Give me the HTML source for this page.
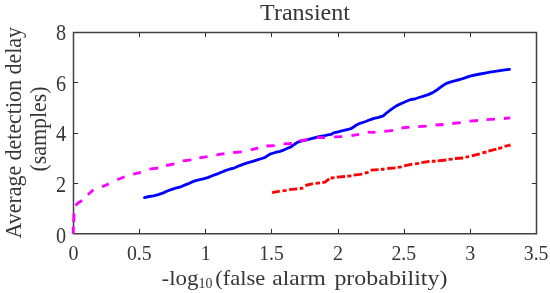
<!DOCTYPE html>
<html><head><meta charset="utf-8"><style>
html,body{margin:0;padding:0;background:#fff;width:550px;height:293px;overflow:hidden}
svg{display:block}
text{font-family:"Liberation Serif",serif;fill:#363636}
</style></head><body>
<svg width="550" height="293" viewBox="0 0 550 293">
<rect width="550" height="293" fill="#fff"/>
<g font-size="22"><text transform="translate(73.40,260) scale(0.91,1)" text-anchor="middle">0</text><text transform="translate(139.24,260) scale(0.9,1)" text-anchor="middle">0.5</text><text transform="translate(205.69,260) scale(0.91,1)" text-anchor="middle">1</text><text transform="translate(271.53,260) scale(0.9,1)" text-anchor="middle">1.5</text><text transform="translate(337.97,260) scale(0.91,1)" text-anchor="middle">2</text><text transform="translate(403.81,260) scale(0.9,1)" text-anchor="middle">2.5</text><text transform="translate(470.26,260) scale(0.91,1)" text-anchor="middle">3</text><text transform="translate(536.10,260) scale(0.9,1)" text-anchor="middle">3.5</text><text transform="translate(66.1,242.60) scale(0.92,1.04)" text-anchor="end">0</text><text transform="translate(66.1,191.55) scale(0.92,1.04)" text-anchor="end">2</text><text transform="translate(66.1,140.70) scale(0.92,1.04)" text-anchor="end">4</text><text transform="translate(66.1,90.85) scale(0.92,1.04)" text-anchor="end">6</text><text transform="translate(66.1,40.00) scale(0.92,1.04)" text-anchor="end">8</text></g>
<text x="305" y="20" font-size="24" text-anchor="middle" fill="#000">Transient</text>
<g font-size="22">
<text x="161.5" y="284.6" textLength="37" lengthAdjust="spacingAndGlyphs">-log</text>
<text x="198.6" y="288.2" font-size="15" textLength="14" lengthAdjust="spacingAndGlyphs">10</text>
<text x="215.3" y="284.6" textLength="50" lengthAdjust="spacingAndGlyphs">(false</text>
<text x="272.3" y="284.6" textLength="53.5" lengthAdjust="spacingAndGlyphs">alarm</text>
<text x="334.4" y="284.6" textLength="113" lengthAdjust="spacingAndGlyphs">probability)</text>
</g>
<g font-size="23.6" text-anchor="middle">
<text transform="translate(21.2,132.8) rotate(-90) scale(0.93,1)">Average detection delay</text>
<text transform="translate(45.6,129) rotate(-90) scale(0.93,1)">(samples)</text>
</g>
<path d="M73.50 233.5V228.9M73.50 32.5V37.1M139.50 233.5V228.9M139.50 32.5V37.1M205.50 233.5V228.9M205.50 32.5V37.1M271.50 233.5V228.9M271.50 32.5V37.1M338.50 233.5V228.9M338.50 32.5V37.1M404.50 233.5V228.9M404.50 32.5V37.1M470.50 233.5V228.9M470.50 32.5V37.1M536.50 233.5V228.9M536.50 32.5V37.1M73.5 233.50H78.1M536.5 233.50H531.9M73.5 183.50H78.1M536.5 183.50H531.9M73.5 133.50H78.1M536.5 133.50H531.9M73.5 82.50H78.1M536.5 82.50H531.9M73.5 32.50H78.1M536.5 32.50H531.9" stroke="#303030" stroke-width="1" fill="none"/>
<path d="M73.5 32.4H536.5V233.7H73.5Z" fill="none" stroke="#404040" stroke-width="1.5"/>
<polyline points="144.5,197.6 149.1,196.5 153.6,195.8 158.2,194.6 162.7,193.1 167.3,191.0 171.8,189.3 176.4,187.9 180.9,186.8 185.2,184.9 189.3,183.3 194.1,181.1 198.6,179.9 203.2,178.8 207.7,177.6 212.3,175.7 216.8,174.1 221.4,172.2 225.9,170.4 230.2,169.0 234.7,167.8 239.1,165.8 243.6,164.1 248.2,162.7 252.7,161.3 257.3,159.9 261.8,158.5 264.5,157.7 267.3,155.9 270.0,154.1 273.6,153.0 277.3,151.9 280.0,151.3 284.1,149.8 288.6,147.8 291.4,146.7 294.1,144.5 296.8,142.7 299.5,141.5 302.3,140.8 306.8,139.8 311.4,138.6 315.9,137.5 320.3,136.4 324.8,135.6 329.1,134.7 331.4,134.3 333.6,132.9 338.2,131.8 342.7,130.7 347.3,129.6 350.9,128.7 353.6,127.1 356.4,125.0 359.1,123.7 362.7,122.5 365.7,121.5 369.8,119.8 374.1,118.4 378.6,117.4 383.2,115.8 385.9,113.5 388.6,111.4 392.3,108.7 396.8,105.6 401.4,103.5 405.9,101.5 410.2,99.7 414.7,99.0 419.1,97.5 423.6,96.1 428.2,94.6 432.7,92.6 437.3,89.7 441.8,86.3 446.4,83.4 450.9,81.8 455.5,80.6 460.0,79.5 465.0,77.8 470.0,76.1 475.0,75.0 480.0,74.0 485.0,73.1 490.0,72.2 495.0,71.4 500.0,70.6 505.0,69.9 509.5,69.4" fill="none" stroke="#0000ff" stroke-width="2.85" stroke-linejoin="round" stroke-linecap="round"/>
<path d="M73.20 233.80 L73.30 226.60M73.70 222.10 L74.00 213.50M75.70 205.50 L77.20 203.60 L79.50 202.00 L82.20 200.60M87.90 194.70 L93.40 189.80M102.00 186.80 L108.80 183.90M117.30 179.80 L124.50 176.70M133.20 174.10 L140.90 172.40M149.40 169.10 L158.20 168.00M166.20 165.50 L174.40 163.80M182.70 160.90 L191.40 159.80M199.30 157.80 L207.60 156.70M216.40 154.80 L224.50 153.60M233.20 152.50 L241.80 151.90M250.70 149.90 L258.20 148.00M266.40 146.00 L274.80 145.70M283.60 143.90 L291.80 143.50M299.60 141.00 L307.70 139.40M316.80 137.60 L325.00 137.60M334.10 136.90 L342.20 136.70M351.40 135.60 L359.10 134.40M367.70 132.10 L375.50 132.40M384.30 131.30 L393.20 130.30M401.40 128.00 L409.50 127.10M418.20 126.60 L426.70 126.10M435.50 125.00 L443.60 124.50M452.30 123.50 L460.70 122.60M469.40 121.20 L478.00 120.50M486.50 119.60 L495.00 119.10M503.90 118.50 L510.30 117.90" fill="none" stroke="#ff00ff" stroke-width="2.85" stroke-linejoin="round"/>
<path d="M272.10 192.60 L279.80 191.20M282.50 190.80 L286.60 190.30M289.10 189.70 L297.30 188.90M299.80 188.50 L303.30 188.20M305.30 185.50 L313.00 183.70M315.50 183.30 L320.00 182.90M322.30 182.60 L325.00 182.10 L329.10 178.90M330.70 178.00 L334.50 177.60M336.80 177.10 L345.00 176.50M347.30 176.20 L351.40 175.80M353.60 175.10 L362.30 174.20M364.80 173.00 L368.60 172.40M370.60 170.10 L378.60 169.70M380.90 169.20 L384.50 169.20M387.30 168.50 L395.50 167.80M397.70 167.40 L401.80 166.90M404.10 165.80 L412.30 164.10M415.00 163.80 L419.10 163.30M421.40 162.60 L429.50 161.40M431.80 161.20 L435.50 161.20M437.70 160.80 L446.40 160.00M448.60 159.40 L452.70 159.20M455.00 158.50 L463.20 158.00M465.50 157.10 L469.10 156.70M471.80 155.80 L479.80 153.80M482.30 152.90 L486.40 152.00M488.40 151.10 L496.40 149.10M498.20 148.50 L502.30 147.60M504.50 146.40 L510.50 145.00" fill="none" stroke="#ff0000" stroke-width="2.85" stroke-linejoin="round"/>
</svg>
</body></html>
